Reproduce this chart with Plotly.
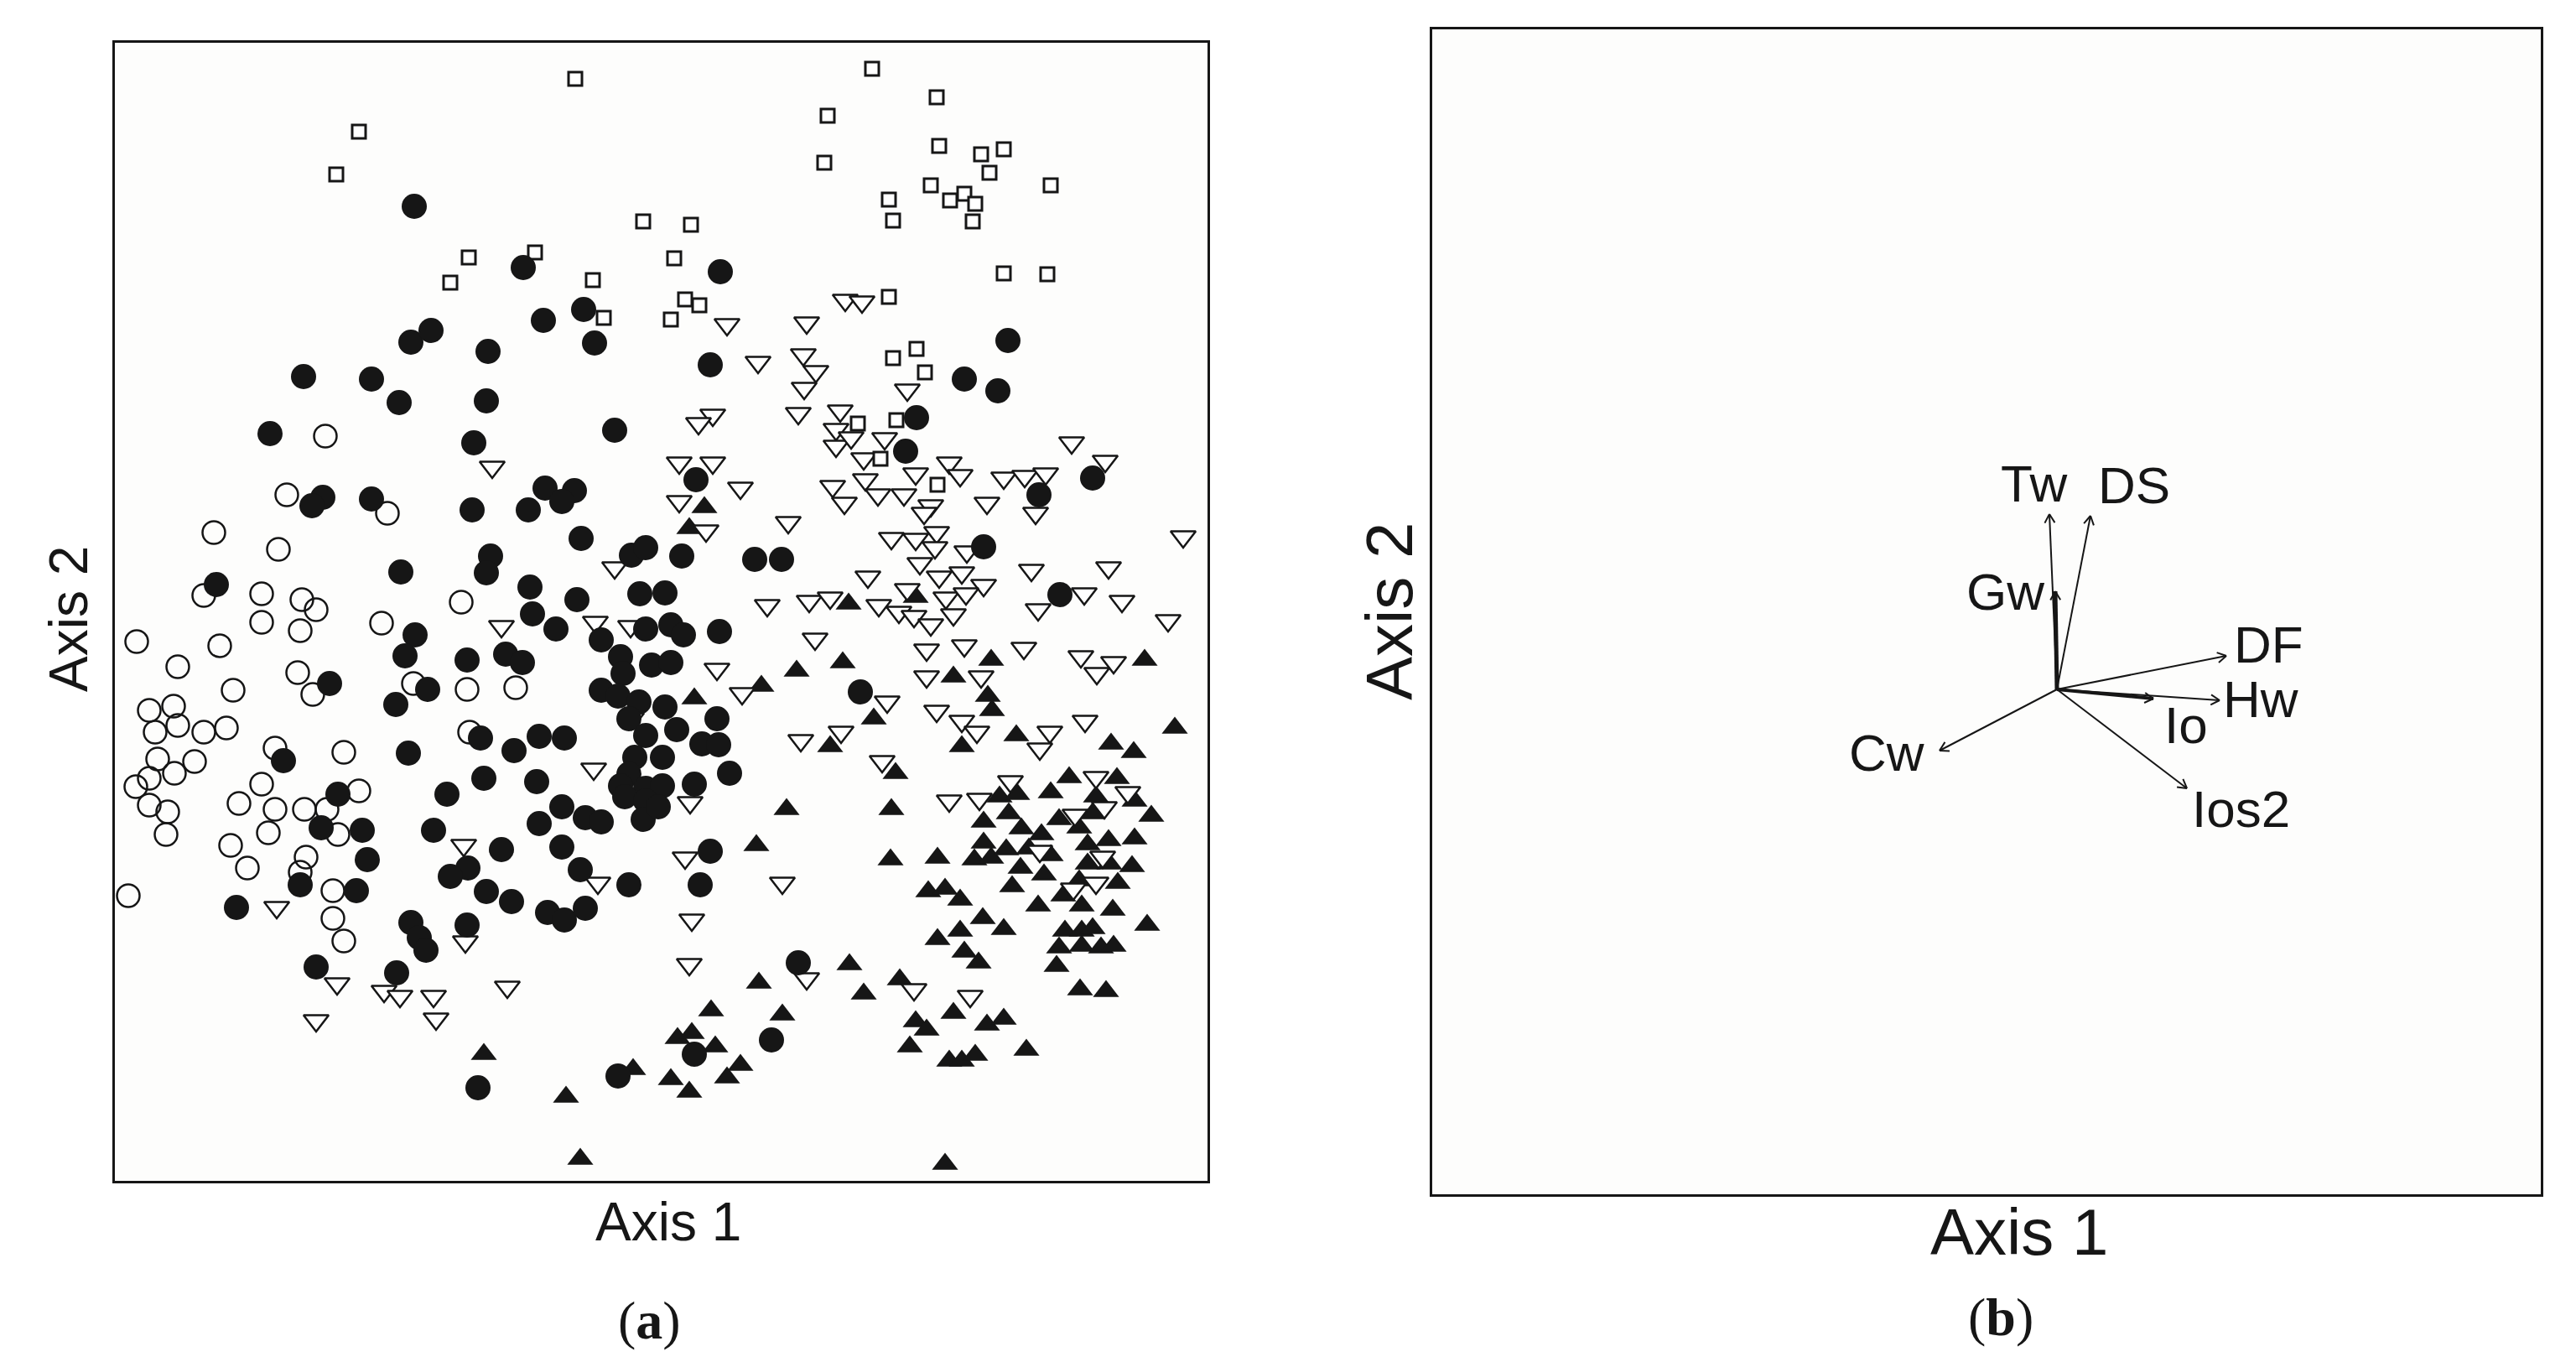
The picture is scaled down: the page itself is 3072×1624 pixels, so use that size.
import math
import plotly.graph_objects as go

# ---- panel (a): sample scores (x right, y down) ----
open_squares = [(428, 157), (401, 208), (559, 307), (537, 337), (686, 94), (987, 138), (983, 194),
                (767, 264), (824, 268), (804, 308), (638, 301), (707, 334), (720, 379), (817, 357),
                (834, 364), (800, 381), (1040, 82), (1117, 116), (1120, 174), (1170, 184), (1197, 178),
                (1180, 206), (1110, 221), (1060, 238), (1065, 263), (1133, 239), (1150, 231), (1163, 243),
                (1160, 264), (1253, 221), (1197, 326), (1249, 327), (1060, 354), (1065, 427), (1093, 416),
                (1103, 444), (1069, 501), (1023, 505), (1050, 547), (1118, 578)]

filled_circles = [(494, 246), (490, 408), (514, 394), (362, 449), (443, 452), (476, 480),
                  (624, 319), (648, 382), (696, 369), (709, 409), (582, 419), (580, 478), (859, 324), (847, 435),
                  (1202, 406), (1150, 452), (1190, 466), (1093, 498),
                  (1080, 538), (1303, 570), (1239, 590), (1173, 652), (1264, 709), (1026, 825),
                  (322, 517), (565, 528), (385, 593), (372, 603), (443, 595), (563, 608), (258, 697), (478, 682),
                  (495, 757), (483, 782), (557, 787), (510, 822), (472, 840), (393, 815), (338, 907), (487, 898),
                  (573, 880), (577, 928), (533, 947), (403, 947),
                  (733, 513), (650, 582), (685, 585), (670, 598), (630, 608), (693, 642), (585, 663), (580, 683),
                  (753, 662), (770, 653), (813, 663), (830, 572), (900, 667), (932, 667), (632, 700), (688, 715),
                  (763, 708), (793, 707), (635, 732), (663, 750), (603, 780), (623, 790), (717, 763),
                  (770, 750), (800, 745), (815, 757), (740, 783), (777, 793), (800, 790), (743, 803), (717, 823),
                  (737, 830), (762, 837), (793, 843), (750, 857), (770, 877), (807, 870), (757, 903), (750, 923),
                  (790, 903), (740, 937), (770, 940), (790, 937),
                  (858, 753), (855, 857), (837, 887), (857, 888), (870, 922), (828, 935), (613, 895), (643, 878),
                  (673, 880), (640, 932),
                  (383, 987), (432, 990), (517, 990), (438, 1025), (358, 1055), (425, 1062), (282, 1082),
                  (558, 1035), (537, 1045), (580, 1063), (490, 1100), (500, 1118), (508, 1133), (557, 1103),
                  (377, 1153), (473, 1160), (570, 1297),
                  (670, 962), (643, 982), (698, 975), (717, 980), (598, 1013), (670, 1010), (692, 1037),
                  (750, 1055), (610, 1075), (653, 1088), (673, 1097), (698, 1083), (847, 1015), (835, 1055),
                  (952, 1148), (920, 1240), (828, 1257), (737, 1283), (745, 950), (770, 955), (767, 977),
                  (785, 962)]

open_circles = [(388, 520), (342, 590), (462, 612), (255, 635), (332, 655), (243, 710), (312, 708),
                (312, 742), (360, 715), (377, 727), (358, 752), (455, 743), (550, 718), (163, 765),
                (262, 770), (212, 795), (278, 823), (355, 802), (373, 828), (493, 815), (557, 822),
                (178, 847), (207, 842), (185, 873), (212, 865), (243, 873), (270, 868), (328, 892),
                (410, 897), (560, 873), (188, 905), (232, 908), (178, 928), (208, 922), (162, 938),
                (312, 935), (428, 943), (615, 820),
                (178, 960), (200, 968), (198, 995), (285, 958), (328, 965), (363, 965), (390, 965),
                (320, 993), (403, 995), (275, 1008), (295, 1035), (365, 1022), (358, 1040), (397, 1062),
                (397, 1095), (410, 1122), (153, 1068)]

down_triangles = [(867, 387), (962, 385), (1008, 358), (904, 432), (958, 423), (973, 443), (959, 463),
                  (850, 495), (833, 505), (952, 493), (1002, 490), (1028, 360), (1082, 465),
                  (997, 512), (997, 532), (587, 557), (810, 552), (850, 552), (883, 582), (810, 598),
                  (842, 633), (940, 623), (993, 580), (1007, 600), (733, 677), (598, 747), (710, 742),
                  (752, 747), (855, 798), (915, 722), (965, 717), (990, 713), (972, 762), (885, 827),
                  (955, 883), (1003, 873), (753, 857), (708, 917),
                  (1015, 522), (1055, 523), (1030, 547), (1092, 565), (1132, 552), (1145, 567), (1032, 572),
                  (1047, 590), (1078, 590), (1177, 600), (1197, 570), (1222, 568), (1247, 565), (1235, 612),
                  (1278, 528), (1318, 550), (1110, 603), (1102, 612), (1411, 640), (1063, 642), (1092, 643),
                  (1117, 635), (1115, 653), (1097, 672), (1153, 658), (1035, 688), (1120, 688), (1147, 683),
                  (1173, 698), (1128, 713), (1152, 708), (1137, 733), (1082, 703), (1048, 722), (1072, 730),
                  (1090, 735), (1110, 745), (1230, 680), (1322, 677), (1238, 727), (1293, 708), (1338, 717),
                  (1393, 740), (1105, 775), (1150, 770), (1221, 773), (1289, 783), (1328, 790), (1308, 803),
                  (1105, 807), (1170, 807), (1058, 837), (1117, 848), (1147, 860), (1165, 873), (1252, 873),
                  (1240, 893), (1294, 860), (1052, 908), (1205, 932), (1307, 927), (1345, 945),
                  (1132, 955), (1168, 953), (1282, 972), (1317, 963), (1240, 1015), (1315, 1022),
                  (1307, 1053), (1280, 1060), (1090, 1180), (1157, 1188),
                  (330, 1082), (553, 1008), (555, 1123), (402, 1173), (458, 1182), (477, 1188), (517, 1188),
                  (520, 1215), (377, 1217),
                  (823, 957), (817, 1023), (713, 1053), (933, 1053), (825, 1097), (822, 1150), (962, 1167),
                  (605, 1177)]

up_triangles = [(840, 605), (822, 630), (1012, 720), (950, 800), (1005, 790), (908, 818), (828, 833), (990, 890),
                (1092, 712), (1182, 787), (1137, 807), (1365, 787), (1178, 830), (1183, 847), (1042, 857),
                (1147, 890), (1212, 877), (1325, 887), (1352, 897), (1401, 868), (1068, 922), (1275, 927),
                (1332, 928),
                (1063, 965), (1173, 980), (1192, 950), (1213, 947), (1203, 970), (1218, 988), (1253, 945),
                (1263, 977), (1242, 995), (1307, 950), (1303, 970), (1287, 987), (1322, 1002), (1353, 955),
                (1373, 973), (1353, 1000), (1297, 1007), (1173, 1005), (1162, 1025), (1182, 1023),
                (1200, 1013), (1227, 1012), (1253, 1020), (1217, 1035), (1207, 1057), (1245, 1043),
                (1297, 1030), (1323, 1030), (1350, 1033), (1287, 1050), (1333, 1053), (1268, 1068),
                (1238, 1080), (1290, 1080), (1327, 1085), (1368, 1103), (1062, 1025), (1118, 1023),
                (1107, 1063), (1127, 1060), (1145, 1073), (1172, 1095), (1145, 1110), (1197, 1108),
                (1118, 1120), (1150, 1135), (1167, 1148), (1270, 1110), (1290, 1110), (1303, 1107),
                (1263, 1130), (1290, 1128), (1313, 1130), (1328, 1128), (1260, 1152), (1013, 1150),
                (1073, 1168), (1030, 1185), (1288, 1180), (1319, 1182), (1137, 1208), (1092, 1218),
                (1105, 1228), (1085, 1248), (1177, 1222), (1197, 1215), (1132, 1265), (1147, 1265),
                (1163, 1258), (1224, 1252), (1127, 1388), (577, 1257),
                (938, 965), (902, 1008), (905, 1172), (848, 1205), (933, 1210), (808, 1238), (825, 1232),
                (853, 1248), (883, 1270), (867, 1285), (800, 1287), (822, 1302), (755, 1275), (675, 1308),
                (692, 1382)]

# ---- panel (b): environmental vectors (origin 0,0; y up) ----
var_names = ["Tw", "DS", "Gw", "DF", "Hw", "Io", "Ios2", "Cw"]
var_dx = [-9, 40, -2, 202, 194, 115, 155, -140]
var_dy = [209, 207, 117, 40, -13, -11, -118, -73]
label_x = [-28, 92, -62, 252, 243, 154, 219, -203]
label_y = [246, 244, 117, 54, -11, -42, -142, -75]
shaft_width = [2, 2, 5, 2, 2, 4, 2, 2]

W, H = 3072, 1624
INK = "#161616"
SANS = "Liberation Sans, Arial, sans-serif"
SERIF = "Liberation Serif, Times New Roman, serif"


def xs(pts):
    return [p[0] for p in pts]


def ys(pts):
    return [p[1] for p in pts]


fig = go.Figure()

fig.add_trace(go.Scatter(x=xs(open_circles), y=ys(open_circles), mode="markers",
                         marker=dict(symbol="circle-open", size=27, color=INK, line=dict(width=2.5, color=INK))))
fig.add_trace(go.Scatter(x=xs(up_triangles), y=ys(up_triangles), mode="markers",
                         marker=dict(symbol="triangle-up", size=27, color=INK, line=dict(width=0))))
fig.add_trace(go.Scatter(x=xs(down_triangles), y=ys(down_triangles), mode="markers",
                         marker=dict(symbol="triangle-down", size=26, color="white", line=dict(width=2.5, color=INK))))
fig.add_trace(go.Scatter(x=xs(open_squares), y=ys(open_squares), mode="markers",
                         marker=dict(symbol="square", size=16, color="white", line=dict(width=3, color=INK))))
fig.add_trace(go.Scatter(x=xs(filled_circles), y=ys(filled_circles), mode="markers",
                         marker=dict(symbol="circle", size=30, color=INK, line=dict(width=0))))

# biplot arrows with open barbed heads
head_len = 12
for name, dx, dy, lw in zip(var_names, var_dx, var_dy, shaft_width):
    L = math.hypot(dx, dy)
    ux, uy = dx / L, dy / L
    hx, hy = [], []
    for ang in (math.radians(30), math.radians(-30)):
        rx = ux * math.cos(ang) - uy * math.sin(ang)
        ry = ux * math.sin(ang) + uy * math.cos(ang)
        hx += [dx, dx - head_len * rx, None]
        hy += [dy, dy - head_len * ry, None]
    fig.add_trace(go.Scatter(x=[0, dx], y=[0, dy], xaxis="x2", yaxis="y2", mode="lines",
                             line=dict(color=INK, width=lw)))
    fig.add_trace(go.Scatter(x=hx, y=hy, xaxis="x2", yaxis="y2", mode="lines",
                             line=dict(color=INK, width=2)))

annotations = []
for name, lx, ly in zip(var_names, label_x, label_y):
    annotations.append(dict(x=lx, y=ly, xref="x2", yref="y2", text=name, showarrow=False,
                            xanchor="center", yanchor="middle",
                            font=dict(family=SANS, size=62, color=INK)))


def paper_text(text, px, py, size, family=SANS, angle=0):
    return dict(x=px / W, y=1 - py / H, xref="paper", yref="paper", text=text, showarrow=False,
                xanchor="center", yanchor="middle", textangle=angle,
                font=dict(family=family, size=size, color=INK))


annotations += [
    paper_text("Axis 1", 797, 1457, 64),
    paper_text("Axis 2", 82, 738, 64, angle=-90),
    paper_text("Axis 1", 2408, 1469, 78),
    paper_text("Axis 2", 1657, 729, 78, angle=-90),
    paper_text("(<b>a</b>)", 774, 1574, 64, family=SERIF),
    paper_text("(<b>b</b>)", 2386, 1570, 64, family=SERIF),
]

frame = dict(showgrid=False, zeroline=False, showticklabels=False, ticks="", showline=True,
             mirror=True, linecolor=INK, linewidth=3, fixedrange=True)

fig.update_layout(
    width=W, height=H, autosize=False,
    margin=dict(l=0, r=0, t=0, b=0),
    paper_bgcolor="white", plot_bgcolor="#fdfdfc",
    showlegend=False, hovermode=False,
    xaxis=dict(domain=[137 / W, 1440 / W], range=[137, 1440], **frame),
    yaxis=dict(domain=[1 - 1408 / H, 1 - 51 / H], range=[1408, 51], **frame),
    xaxis2=dict(domain=[1708 / W, 3030 / W], range=[-745, 577], anchor="y2", **frame),
    yaxis2=dict(domain=[1 - 1424 / H, 1 - 35 / H], range=[-602, 787], anchor="x2", **frame),
    annotations=annotations,
)

fig.write_html("out.html", config={"displayModeBar": False},
               post_script="document.body.style.margin='0';document.body.style.overflow='hidden';")
